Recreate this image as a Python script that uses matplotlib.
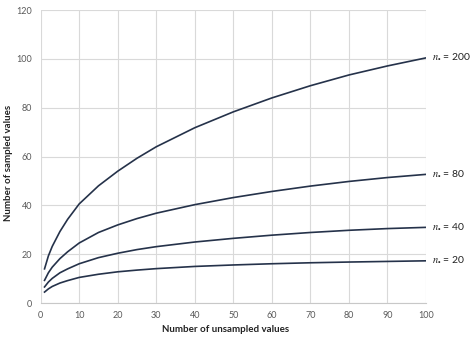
import matplotlib
matplotlib.use("Agg")
import matplotlib.pyplot as plt

plt.rcParams['font.family'] = ['Lato', 'DejaVu Sans']
plt.rcParams['mathtext.fontset'] = 'stix'

# x = number of unsampled values
x = [1, 2, 3, 5, 7, 10, 15, 20, 25, 30, 40, 50, 60, 70, 80, 90, 100]

# one curve per n.
n200 = [14, 19.3, 23.2, 29.3, 34.3, 40.6, 48, 54, 59.3, 64, 71.8, 78.3, 84, 89, 93.4, 97.1, 100.4]
n80 = [9.3, 12.4, 14.7, 18.2, 21, 24.6, 28.9, 32, 34.6, 36.8, 40.3, 43.2, 45.7, 47.9, 49.8, 51.4, 52.7]
n40 = [6.6, 8.6, 10.1, 12.4, 14.0, 16.1, 18.6, 20.4, 21.9, 23.1, 25.0, 26.5, 27.8, 28.9, 29.8, 30.5, 31.0]
n20 = [4.5, 5.8, 6.8, 8.2, 9.2, 10.5, 11.8, 12.8, 13.5, 14.1, 15.0, 15.6, 16.1, 16.5, 16.8, 17.05, 17.3]

series = [("200", n200), ("80", n80), ("40", n40), ("20", n20)]

fig = plt.figure(figsize=(4.74, 3.39), dpi=100)
ax = fig.add_axes([0.0858, 0.106, 0.8130, 0.8645])

for lab, vals in series:
    ax.plot(x, vals, color='#25324a', lw=1.2)
    ax.annotate(r"$n_{\bullet}$ = " + lab, xy=(100, vals[-1]), xytext=(4, 0.5),
                textcoords='offset points', va='center', ha='left',
                fontsize=7.5, color='#222222', annotation_clip=False)

ax.set_xlim(0, 100)
ax.set_ylim(0, 120)
ax.set_xticks(range(0, 101, 10))
ax.set_yticks(range(0, 121, 20))
ax.grid(True, color='#d9d9d9', lw=0.8)
ax.set_axisbelow(True)
for s in ['top', 'right', 'left']:
    ax.spines[s].set_visible(False)
ax.spines['bottom'].set_color('#c8c8c8')
ax.tick_params(length=0, labelsize=6.5, labelcolor='#595959', pad=6)

ax.set_xlabel("Number of unsampled values", fontsize=7, fontweight='bold', color='#222222')
ax.set_ylabel("Number of sampled values", fontsize=7, fontweight='bold', color='#222222')
ax.xaxis.set_label_coords(0.481, -0.075)
ax.yaxis.set_label_coords(-0.073, 0.477)

fig.savefig("out.png", dpi=100)
